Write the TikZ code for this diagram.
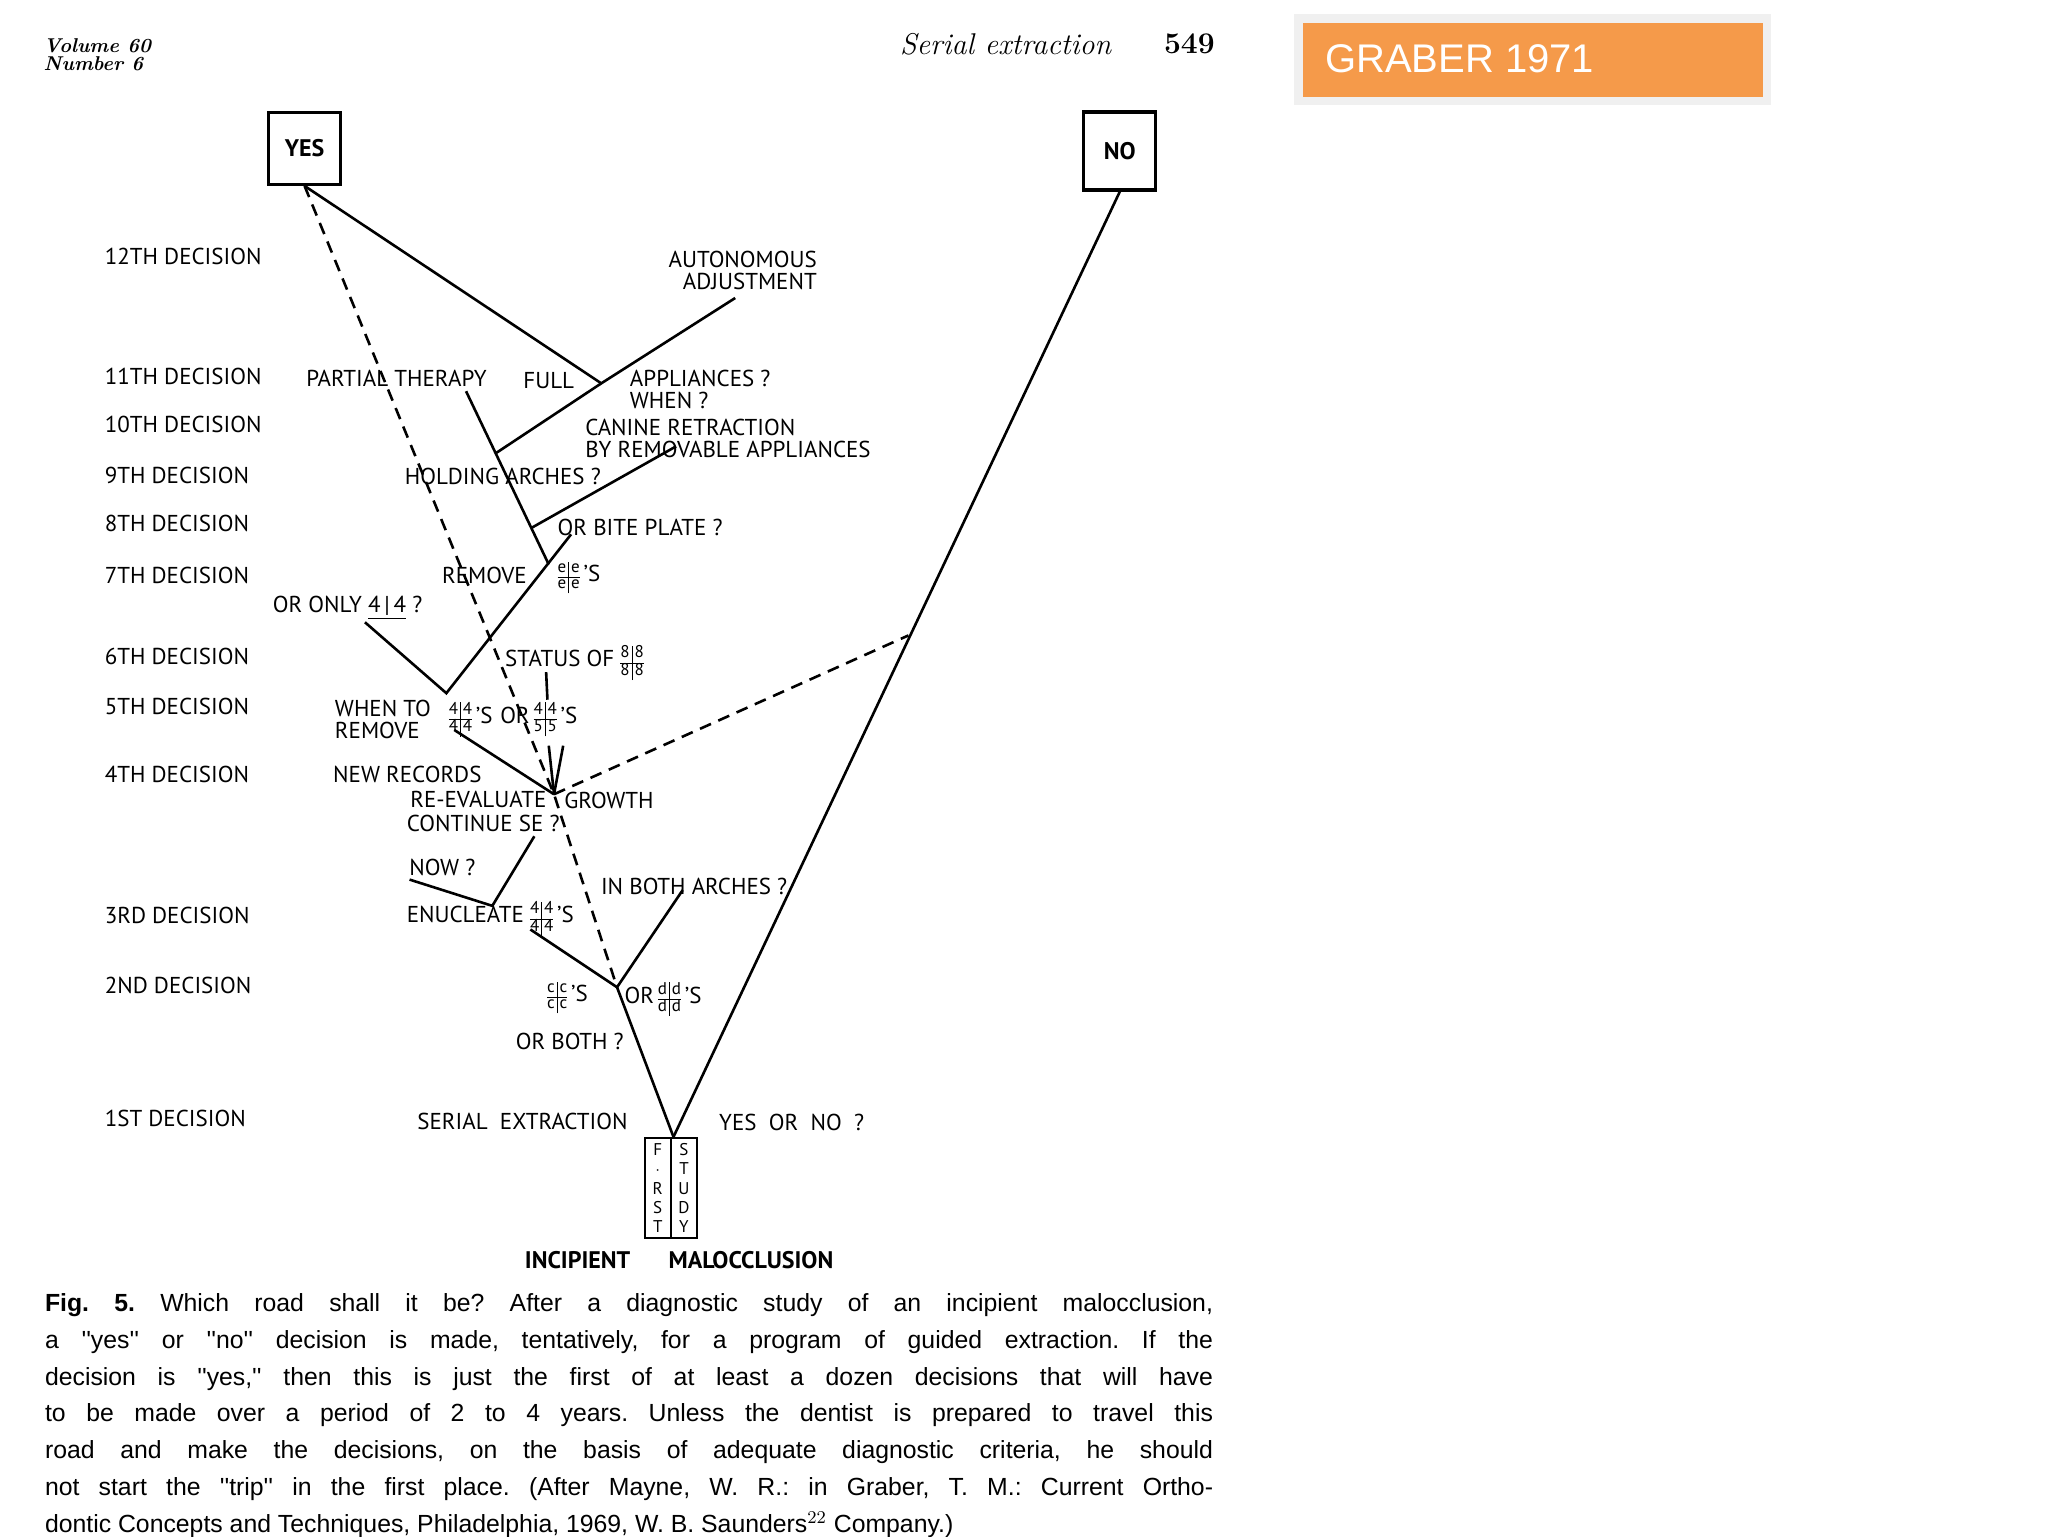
\documentclass[tikz,border=0pt]{standalone}
\usepackage{fontspec}
\setmainfont{PT Sans}
\newfontfamily\capfont{Liberation Sans}
\newfontfamily\serfont{Latin Modern Roman}
\newcommand{\qd}[4]{{\fontsize{8.5}{9}\selectfont\setlength{\tabcolsep}{1.2pt}\renewcommand{\arraystretch}{0.85}\begin{tabular}{@{}c|c@{}}#1&#2\\\hline #3&#4\end{tabular}}}
\begin{document}
\begin{tikzpicture}[x=0.6564pt,y=-0.6564pt,
  lbl/.style={font=\fontsize{11.5}{11}\selectfont, inner sep=1pt},
  dec/.style={lbl, anchor=west},
  ln/.style={line width=1.3pt},
  dsh/.style={line width=1.3pt, dash pattern=on 6pt off 4pt},
  box/.style={draw, line width=1.6pt, minimum width=36pt, font=\bfseries\fontsize{12}{12}\selectfont},
  sbox/.style={draw, line width=0.8pt, minimum width=13pt, minimum height=50pt, inner sep=0pt, align=center, font=\fontsize{8.5}{9.6}\selectfont}]
\useasboundingbox (0,0) rectangle (1560,1170);
\fill[white] (0,0) rectangle (1560,1170);
% header
\node[anchor=west, font=\serfont\bfseries\itshape\fontsize{10}{9}\selectfont, inner sep=0, align=left] (vol) at (33,42) {Volume 60\\Number 6};
\node[font=\serfont\itshape\fontsize{15}{15}\selectfont] (ser) at (766,34) {Serial extraction};
\node[font=\serfont\bfseries\fontsize{15}{15}\selectfont] (pg) at (906,33) {549};
% orange box
\fill[gray!12] (986,11) rectangle (1349,80);
\node[fill={rgb,255:red,245;green,154;blue,74}, minimum width=230pt, minimum height=37pt, anchor=north west, inner sep=0pt] (gr) at (992,17) {};
\node[anchor=west, text=white, font=\capfont\fontsize{20}{20}\selectfont] (grt) at (1004,45) {GRABER 1971};
% boxes
\node[box, minimum height=36pt] (yes) at (232,113) {YES};
\node[box, minimum height=39pt] (no) at (853,115) {NO};
\node[sbox] (first) at (501,905) {F\\$\cdot$\\R\\S\\T};
\node[sbox] (study) at (521,905) {S\\T\\U\\D\\Y};
% coordinates
\coordinate (R) at (513,866);
\coordinate (J2) at (470,752);
\coordinate (J4) at (422,605);
\coordinate (J7) at (418,430);
\coordinate (J8) at (405,402);
\coordinate (J10) at (378,345);
\coordinate (J11) at (458,292);
\coordinate (J5) at (340,528);
\coordinate (NOd) at (692,484);
% decisions column
\foreach \t/\y in {12TH DECISION/195, 11TH DECISION/287, 10TH DECISION/323, 9TH DECISION/362, 8TH DECISION/399, 7TH DECISION/438, 6TH DECISION/500, 5TH DECISION/538, 4TH DECISION/590, 3RD DECISION/697, 2ND DECISION/751, 1ST DECISION/852}
  \node[dec] at (78,\y) {\t};
% lines
\draw[ln] (R) -- (no.south);
\draw[ln] (R) -- (J2);
\draw[ln] (J2) -- (520,678);
\draw[ln] (J2) -- (404,708);
\draw[ln] (312,670) -- (375,690) -- (407,637);
\draw[ln] (J4) -- (346,556);
\draw[ln] (J4) -- (418,568);
\draw[ln] (J4) -- (429,568);
\draw[ln] (416,512) -- (417,533);
\draw[ln] (278,474) -- (J5) -- (435,407);
\draw[ln] (J7) -- (355,298);
\draw[ln] (J8) -- (515,340);
\draw[ln] (J10) -- (J11) -- (560,227);
\draw[ln] (yes.south) -- (J11);
\draw[dsh] (yes.south) -- (J4) -- (J2);
\draw[dsh] (J4) -- (NOd);
% labels
\node[lbl, align=right, anchor=east] (aa) at (624,206) {AUTONOMOUS\\ADJUSTMENT};
\node[lbl] (pt) at (302,288) {PARTIAL THERAPY};
\node[lbl] (full) at (418,290) {FULL};
\node[lbl, anchor=west, align=left] (app) at (478,297) {APPLIANCES ?\\WHEN ?};
\node[lbl, anchor=west, align=left] (can) at (444,334) {CANINE RETRACTION\\BY REMOVABLE APPLIANCES};
\node[lbl] (hold) at (383,363) {HOLDING ARCHES ?};
\node[lbl, anchor=west] (bite) at (423,402) {OR BITE PLATE ?};
\node[lbl] (rem) at (369,438) {REMOVE};
\node[lbl, anchor=west] (ee) at (423,440) {\qd{e}{e}{e}{e}\,'S};
\node[lbl, anchor=west] (only) at (206,463) {OR ONLY \underline{4\,|\,4} ?};
\node[lbl, anchor=west] (stat) at (383,505) {STATUS OF \qd8888};
\node[lbl, align=left, anchor=east] (wtr) at (330,548) {WHEN TO\\REMOVE};
\node[lbl, anchor=west] (ff) at (340,548) {\qd4444\,'S\,\,OR\,\qd4455\,'S};
\node[lbl, anchor=west] (nr) at (252,590) {NEW RECORDS};
\node[lbl, anchor=east] (re) at (418,609) {RE-EVALUATE};
\node[lbl, anchor=west] (gro) at (428,610) {GROWTH};
\node[lbl, anchor=west] (cse) at (308,627) {CONTINUE SE ?};
\node[lbl] (now) at (337,661) {NOW ?};
\node[lbl, anchor=west] (iba) at (456,675) {IN BOTH ARCHES ?};
\node[lbl, anchor=west] (enu) at (308,700) {ENUCLEATE \qd4444\,'S};
\node[lbl, anchor=west] (cc) at (415,760) {\qd cccc\,'S};
\node[lbl, anchor=west] (dd) at (474,761) {OR\,\qd dddd\,'S};
\node[lbl] (both) at (434,793) {OR BOTH ?};
\node[lbl] (se) at (398,854) {SERIAL\ \ EXTRACTION};
\node[lbl] (yn) at (603,855) {YES\ \ OR\ \ NO\ \ ?};
\node[lbl, font=\bfseries\fontsize{12}{12}\selectfont] (inc) at (440,960) {INCIPIENT};
\node[lbl, font=\bfseries\fontsize{12}{12}\selectfont] (mal) at (572,960) {MALOCCLUSION};
% caption
\node[anchor=north west, text width=584pt, align=justify, inner sep=0, font=\capfont\fontsize{12.4}{18.4}\selectfont] (cap) at (34,985) {\frenchspacing\textbf{Fig. 5.} Which road shall it be? After a diagnostic study of an incipient malocclusion,\linebreak a ''yes'' or ''no'' decision is made, tentatively, for a program of guided extraction. If the\linebreak decision is ''yes,'' then this is just the first of at least a dozen decisions that will have\linebreak to be made over a period of 2 to 4 years. Unless the dentist is prepared to travel this\linebreak road and make the decisions, on the basis of adequate diagnostic criteria, he should\linebreak not start the ''trip'' in the first place. (After Mayne, W. R.: in Graber, T. M.: Current Ortho-\linebreak dontic Concepts and Techniques, Philadelphia, 1969, W. B. Saunders$^{22}$ Company.)};
\end{tikzpicture}
\end{document}
